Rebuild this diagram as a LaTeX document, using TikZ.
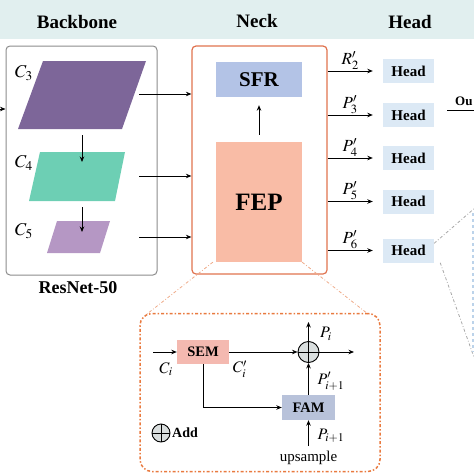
\documentclass[tikz,border=0pt]{standalone}
\usepackage{mathptmx}
\usepackage{fontspec}
\setmainfont{Liberation Serif}
\usetikzlibrary{arrows.meta,calc}
\definecolor{hdrbg}{HTML}{E1EFEF}
\definecolor{bbgray}{HTML}{8C8C8C}
\definecolor{cthree}{HTML}{7D6699}
\definecolor{cfour}{HTML}{6DCFB4}
\definecolor{cfive}{HTML}{B597C4}
\definecolor{neckor}{HTML}{E0734F}
\definecolor{sfrblue}{HTML}{B3C3E6}
\definecolor{fepsal}{HTML}{F9BCA6}
\definecolor{headblue}{HTML}{DCE9F5}
\definecolor{detor}{HTML}{E97A3F}
\definecolor{zoomor}{HTML}{EEAA88}
\definecolor{zoomgray}{HTML}{A8A8A8}
\definecolor{semcol}{HTML}{F4B9B0}
\definecolor{famcol}{HTML}{B8C2DA}
\definecolor{addgray}{HTML}{D9DEDE}
\definecolor{edgeblue}{HTML}{BCD3EA}
\tikzset{
  hdrtext/.style={font=\fontsize{19}{19}\selectfont\bfseries},
  fillbox/.style={inner sep=0pt, font=\bfseries},
  headbox/.style={fillbox, fill=headblue, minimum width=51pt, minimum height=24pt, font=\fontsize{15}{15}\selectfont\bfseries},
  featlbl/.style={font=\fontsize{18}{18}\selectfont},
  outlbl/.style={font=\fontsize{17}{17}\selectfont, inner sep=1pt},
  detlbl/.style={font=\fontsize{16}{16}\selectfont, inner sep=1pt},
  arr/.style={-{Stealth[length=5.5pt,width=4.5pt]}, line width=0.9pt},
  plain/.style={line width=0.9pt},
  addcirc/.style={circle, draw, line width=0.9pt, fill=addgray, inner sep=0pt},
}
\begin{document}
\begin{tikzpicture}[x=1pt,y=-1pt]
\useasboundingbox (0,0) rectangle (474,474);
\clip (0,0) rectangle (474,474);
% header band
\fill[hdrbg] (0,0) rectangle (474,39);
\node[hdrtext] (hb) at (77,22) {Backbone};
\node[hdrtext] (hn) at (257,21) {Neck};
\node[hdrtext] (hh) at (410,22) {Head};

% backbone
\node[draw=bbgray, line width=1pt, rounded corners=4pt, minimum width=151pt, minimum height=229pt, inner sep=0pt] (backbone) at (81.5,160.5) {};
\fill[cthree] (18,129) -- (122,129) -- (146,61) -- (43,61) -- cycle;
\fill[cfour] (29,201) -- (115,201) -- (125,152) -- (40,152) -- cycle;
\fill[cfive] (47,253) -- (100,253) -- (110,221) -- (57,221) -- cycle;
\node[featlbl] (lc3) at (24,73) {$C_3$};
\node[featlbl] (lc4) at (24,163) {$C_4$};
\node[featlbl] (lc5) at (24,231) {$C_5$};
\node[font=\fontsize{18}{18}\selectfont\bfseries] (resnet) at (78,288) {ResNet-50};
\coordinate (c3b) at (82,135);
\coordinate (c4t) at (82,162);
\coordinate (c4b) at (82,207);
\coordinate (c5t) at (82,232);
\draw[arr] (c3b) -- (c4t);
\draw[arr] (c4b) -- (c5t);
\coordinate (instub) at (-6,109);
\draw[arr] (instub) -- (instub -| backbone.west);

% neck
\node[draw=neckor, line width=1.2pt, rounded corners=4pt, minimum width=135pt, minimum height=228pt, inner sep=0pt] (neck) at (259.5,160) {};
\node[fillbox, fill=sfrblue, minimum width=86pt, minimum height=35pt, font=\fontsize{21}{21}\selectfont\bfseries] (sfr) at (259,79.5) {SFR};
\node[fillbox, fill=fepsal, minimum width=86pt, minimum height=120pt, font=\fontsize{25}{25}\selectfont\bfseries] (fep) at (259,202) {FEP};
\draw[arr] ([yshift=7pt]fep.north) -- ([yshift=-8pt]sfr.south);
\coordinate (o3) at (139,94);
\coordinate (o4) at (139,176);
\coordinate (o5) at (139,237);
\draw[arr] (o3) -- (o3 -| neck.west);
\draw[arr] (o4) -- (o4 -| neck.west);
\draw[arr] (o5) -- (o5 -| neck.west);

% heads
\node[headbox] (h2) at (408.5,71) {Head};
\node[headbox] (h3) at (408.5,115) {Head};
\node[headbox] (h4) at (408.5,158) {Head};
\node[headbox] (h5) at (408.5,201.5) {Head};
\node[headbox] (h6) at (408.5,250.5) {Head};
\foreach \h/\lab in {h2/{R'_2},h3/{P'_3},h4/{P'_4},h5/{P'_5},h6/{P'_6}}{
  \draw[arr] (neck.east |- \h) -- ([xshift=-10pt]\h.west) node[midway, above=0pt, outlbl] {$\lab$};
}
% output (clipped)
\coordinate (outa) at (447,110);
\coordinate (outb) at (476,110);
\draw[plain] (outa) -- (outb);
\node[anchor=west, inner sep=0pt, font=\fontsize{13}{13}\selectfont\bfseries] (outtxt) at (455,101) {Ou};

% zoom lines from head
\draw[zoomgray, line width=0.8pt, dash dot] ([yshift=-5pt]h6.north east) -- (476,207);
\draw[zoomgray, line width=0.8pt, dash dot] ([xshift=6pt]h6.south east) -- (475,360);
\draw[edgeblue, line width=1.5pt, dashed] (473,213) -- (473,352);

% zoom lines from FEP
\draw[zoomor, line width=0.8pt, dash dot] ([xshift=-3pt]fep.south west) -- (147,314);
\draw[zoomor, line width=0.8pt, dash dot] (fep.south east) -- (368,314);

% detail box
\node[draw=detor, line width=1.5pt, dash dot, rounded corners=12pt, minimum width=240pt, minimum height=158pt, inner sep=0pt] (detail) at (260,392.5) {};
\node[fillbox, fill=semcol, minimum width=52pt, minimum height=24pt, font=\fontsize{14.5}{14.5}\selectfont\bfseries] (sem) at (203,352) {SEM};
\node[fillbox, fill=famcol, minimum width=53pt, minimum height=25pt, font=\fontsize{14.5}{14.5}\selectfont\bfseries] (fam) at (308.5,407.5) {FAM};
\node[addcirc, minimum size=21pt] (add) at (308.5,352) {};
\draw[plain] (add.north) -- (add.south);
\draw[plain] (add.west) -- (add.east);
\coordinate (ciin) at (153,352);
\coordinate (pout) at (354,352);
\coordinate (ptop) at (308.5,322);
\coordinate (pin) at (308.5,446);
\draw[arr] (ciin) -- (sem.west);
\draw[arr] (sem.east) -- (add.west);
\draw[arr] (add.east) -- (pout);
\draw[arr] (add.north) -- (ptop);
\draw[arr] (fam.north) -- (add.south);
\draw[arr] (pin) -- (fam.south);
\draw[arr] (sem.south) |- (fam.west);
\node[detlbl] (lci) at (166,369) {$C_i$};
\node[detlbl] (lcip) at (240,369) {$C'_i$};
\node[detlbl] (lpi) at (326,334) {$P_i$};
\node[detlbl] (lpip) at (331,381) {$P'_{i+1}$};
\node[detlbl] (lpin) at (331,436) {$P_{i+1}$};
\node[font=\fontsize{15}{15}\selectfont] (ups) at (308.5,458) {upsample};
\node[addcirc, minimum size=18pt] (addleg) at (161,433) {};
\draw[plain] (addleg.north) -- (addleg.south);
\draw[plain] (addleg.west) -- (addleg.east);
\node[anchor=west, inner sep=0pt, font=\fontsize{14}{14}\selectfont\bfseries] (addtxt) at (172,433) {Add};
\end{tikzpicture}
\end{document}
